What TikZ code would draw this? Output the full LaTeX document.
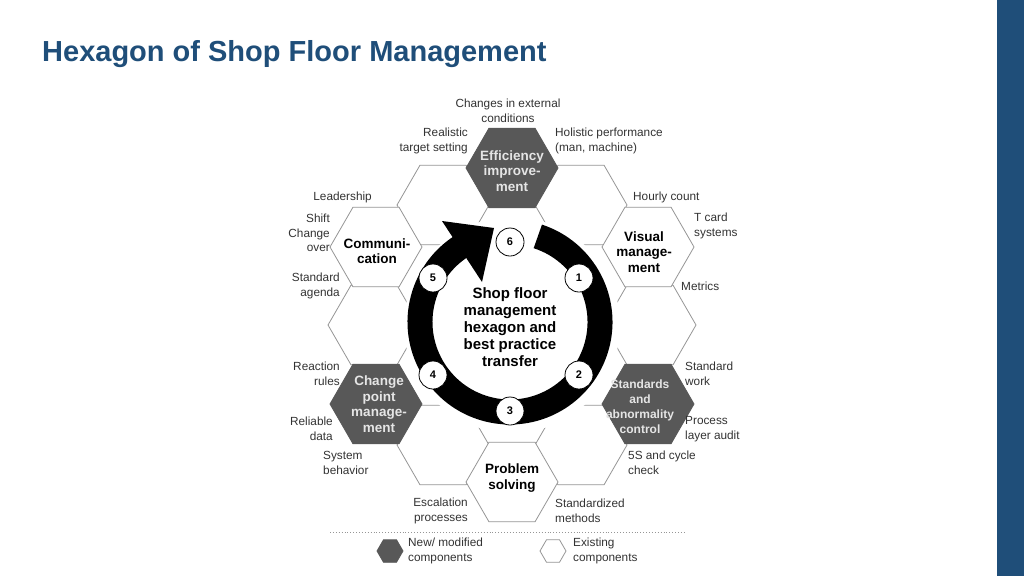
\documentclass[tikz,border=0pt]{standalone}
\usepackage{fontspec}
\setmainfont{Liberation Sans}
\definecolor{titleblue}{RGB}{31,78,121}
\definecolor{darkhex}{RGB}{88,88,88}
\definecolor{hexline}{RGB}{150,150,150}
\begin{document}
\begin{tikzpicture}[x=1pt,y=-1pt,
  lbl/.style={font=\fontsize{11.8}{14.5}\selectfont, text=black!80, inner sep=0pt},
  hexlbl/.style={font=\bfseries\fontsize{13.5}{15.5}\selectfont, align=center, inner sep=0pt},
  num/.style={circle, draw=black, line width=0.8pt, fill=white, minimum size=28pt, inner sep=0pt, font=\bfseries\fontsize{11}{12}\selectfont},
  newhex/.style={fill=darkhex, draw=darkhex, line width=0.8pt},
  oldhex/.style={fill=white, draw=hexline, line width=0.8pt}]
\useasboundingbox (0,0) rectangle (1024,576);
\fill[white] (0,0) rectangle (1024,576);
\fill[titleblue] (997,0) rectangle (1024,576);
\node[anchor=west, text=titleblue, font=\bfseries\fontsize{29}{33}\selectfont, inner sep=0pt] (title) at (42,54) {Hexagon of Shop Floor Management};
\newcommand{\hexat}[4]{\path[#4,shift={(#1,#2)}] (0:#3)--(60:#3)--(120:#3)--(180:#3)--(240:#3)--(300:#3)--cycle;}
% blank ring hexes
\hexat{650}{325}{46}{oldhex}
\hexat{581}{205}{46}{oldhex}
\hexat{443}{205}{46}{oldhex}
\hexat{374}{325}{46}{oldhex}
\hexat{443}{445}{46}{oldhex}
\hexat{581}{445}{46}{oldhex}
\fill[white] (512,325) circle[radius=108];
% labelled hexes
\hexat{512}{168}{46}{newhex}
\hexat{648}{247}{46}{oldhex}
\hexat{648}{404}{46}{newhex}
\hexat{512}{482}{46}{oldhex}
\hexat{376}{404}{46}{newhex}
\hexat{376}{247}{46}{oldhex}
\node[hexlbl, text=white!90!black] (eff) at (512,171) {Efficiency\\improve-\\ment};
\node[hexlbl] (vis) at (644,252) {Visual\\manage-\\ment};
\node[hexlbl, text=white!90!black, font=\bfseries\fontsize{12}{15}\selectfont] (std) at (640,407) {Standards\\and\\abnormality\\control};
\node[hexlbl] (prob) at (512,478) {Problem\\solving};
\node[hexlbl, text=white!90!black] (chg) at (379,404) {Change\\point\\manage-\\ment};
\node[hexlbl] (com) at (377,251) {Communi-\\cation};
% ring arrow
\coordinate (rc) at (510,322);
\draw[line width=25pt] (rc) ++(-72:90) arc[start angle=-72, end angle=237, radius=90];
\fill (442,221) -- (494,228) -- (482,282) -- cycle;
\node[hexlbl, font=\bfseries\fontsize{15}{17}\selectfont] (center) at (510,327) {Shop floor\\management\\hexagon and\\best practice\\transfer};
\node[num] (n6) at (510,242) {6};
\node[num] (n1) at (579,278) {1};
\node[num] (n2) at (579,375) {2};
\node[num] (n3) at (510,411) {3};
\node[num] (n4) at (433,375) {4};
\node[num] (n5) at (433,278) {5};
% labels
\node[lbl, align=center] (t1) at (508,111) {Changes in external\\conditions};
\node[lbl, align=right, anchor=east] (t2) at (468,141) {Realistic\\target setting};
\node[lbl, align=left, anchor=west] (t3) at (555,141) {Holistic performance\\(man, machine)};
\node[lbl, anchor=east] (t4) at (372,197) {Leadership};
\node[lbl, align=right, anchor=east] (t5) at (330,233) {Shift\\Change\\over};
\node[lbl, align=right, anchor=east] (t6) at (340,286) {Standard\\agenda};
\node[lbl, anchor=west] (t7) at (633,197) {Hourly count};
\node[lbl, align=left, anchor=west] (t8) at (694,226) {T card\\systems};
\node[lbl, anchor=west] (t9) at (681,286) {Metrics};
\node[lbl, align=right, anchor=east] (t10) at (340,374) {Reaction\\rules};
\node[lbl, align=right, anchor=east] (t11) at (333,429) {Reliable\\data};
\node[lbl, align=left, anchor=west] (t12) at (323,463) {System\\behavior};
\node[lbl, align=left, anchor=west] (t13) at (685,374) {Standard\\work};
\node[lbl, align=left, anchor=west] (t14) at (685,429) {Process\\layer audit};
\node[lbl, align=left, anchor=west] (t15) at (628,463) {5S and cycle\\check};
\node[lbl, align=right, anchor=east] (t16) at (468,511) {Escalation\\processes};
\node[lbl, align=left, anchor=west] (t17) at (555,511) {Standardized\\methods};
% legend
\draw[hexline, dotted, line width=0.9pt] (330,532) -- (686,532);
\hexat{390}{551}{13}{newhex}
\hexat{553}{551}{13}{oldhex}
\node[lbl, align=left, anchor=west] (l1) at (408,551) {New/ modified\\components};
\node[lbl, align=left, anchor=west] (l2) at (573,551) {Existing\\components};
\end{tikzpicture}
\end{document}
